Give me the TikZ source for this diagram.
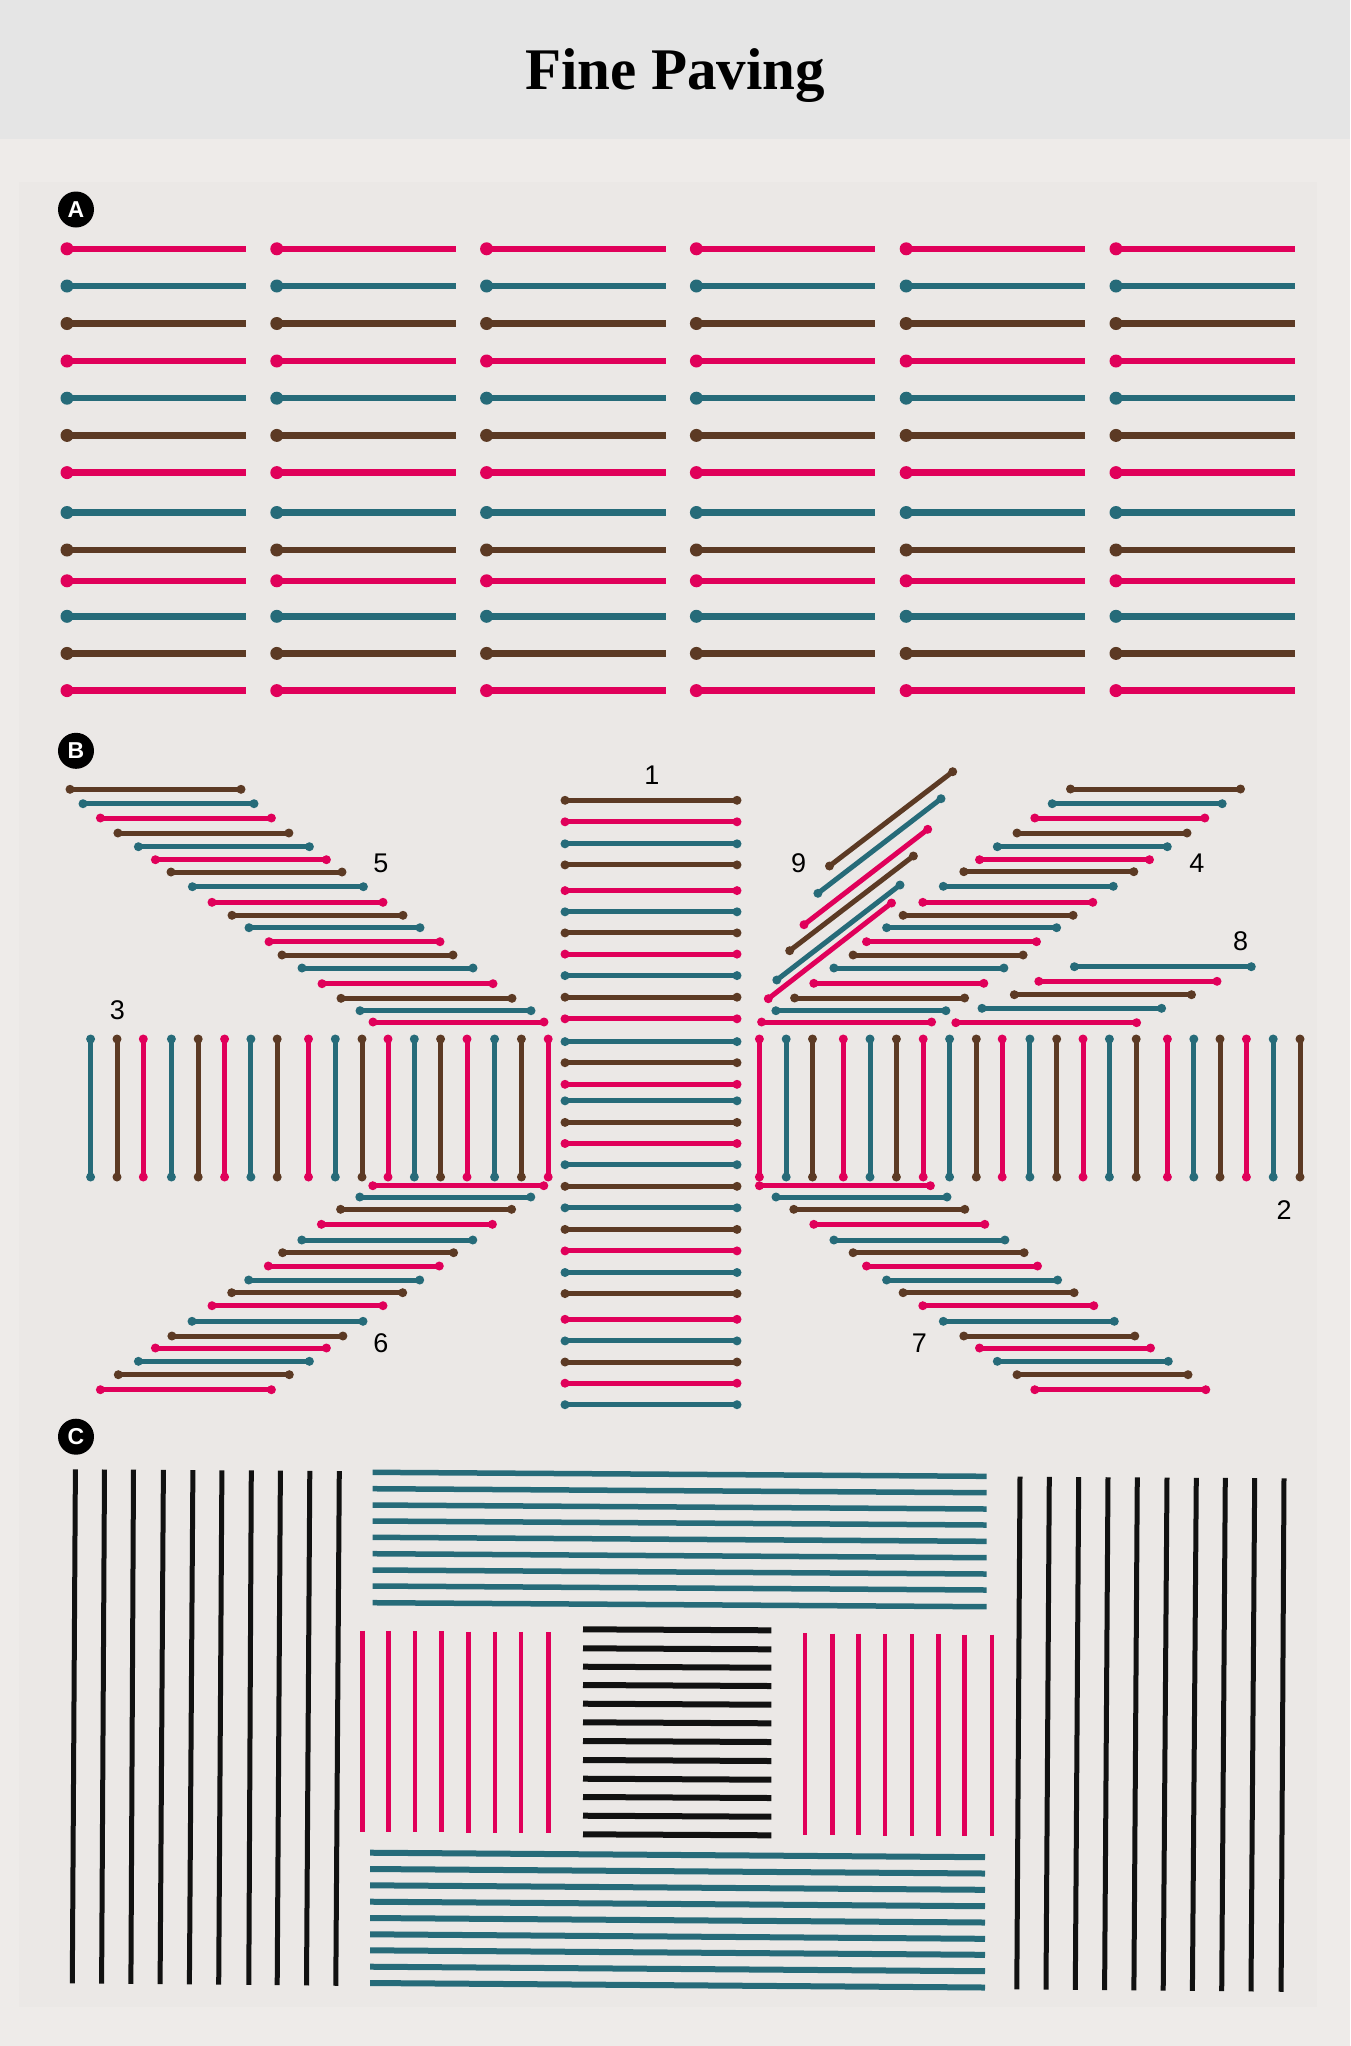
\documentclass[tikz,border=0pt]{standalone}
\usepackage{fontspec}
\setmainfont{Liberation Serif}
\newfontfamily\numfont{Liberation Sans}
\definecolor{pnk}{HTML}{E0005A}
\definecolor{tel}{HTML}{266B79}
\definecolor{brn}{HTML}{5C3A24}
\definecolor{ink}{HTML}{111111}
\definecolor{paper}{HTML}{EEEBE9}
\definecolor{panel}{HTML}{EBE8E6}
\definecolor{band}{HTML}{E5E5E5}

% stitch with a dot at both ends
\newcommand{\stitch}[5]{%
  \draw[#1, line width=5pt] (#2,#3) -- (#4,#5);
  \fill[#1] (#2,#3) circle[radius=4.5pt] (#4,#5) circle[radius=4.5pt];
}
% stitch of part A, dot on the left end only
\newcommand{\pin}[3]{%
  \draw[#1, line width=6.5pt] (#2,#3) -- ++(179,0);
  \fill[#1] (#2,#3) circle[radius=6.5pt];
}

\begin{document}
\begin{tikzpicture}[x=1pt, y=-1pt,
  numlabel/.style={font=\numfont\fontsize{27}{27}\selectfont, inner sep=0pt},
  seclabel/.style={circle, fill=black, text=white, minimum size=36pt, inner sep=0pt,
    font=\numfont\bfseries\fontsize{23}{23}\selectfont},
  bar/.style={line width=5pt}]
% page, title band and panel
\fill[paper] (0,0) rectangle (1350,2046);
\fill[band] (0,0) rectangle (1350,139);
\fill[panel] (19,182) rectangle (1317,2007);
\node[anchor=base, inner sep=0pt, font=\bfseries\fontsize{59}{59}\selectfont] (title) at (675,89) {Fine Paving};

% A
\node[seclabel] (secA) at (76,209.5) {A};
\foreach \c/\y in {pnk/248.8, tel/286.0, brn/323.5, pnk/361.0, tel/398.2, brn/435.4, pnk/472.6,
    tel/512.5, brn/550.0, pnk/580.8, tel/616.3, brn/653.4, pnk/690.6}
  \foreach \k in {0,...,5}
    \pin{\c}{67+209.8*\k}{\y};

% B
\node[seclabel] (secB) at (76,750.8) {B};
% 5
\foreach \c/\x/\y in {brn/70/789.3, tel/83/803.7, pnk/100.4/818, brn/117.9/833, tel/138.4/846.7,
    pnk/155.4/859.7, brn/171/872, tel/192.4/886.7, pnk/212/902.3, brn/232/915.3, tel/249/927.7,
    pnk/269/941.7, brn/282/955, tel/302/968, pnk/322/983.7, brn/341/998.3, tel/360/1010.7, pnk/373/1022}
  \stitch{\c}{\x}{\y}{\x+171}{\y};
% 4
\foreach \c/\x/\y in {brn/1070.5/789, tel/1052.2/803.7, pnk/1034.8/818, brn/1017/833, tel/997.3/846.7,
    pnk/979.5/859.7, brn/963.8/871.7, tel/943.3/886.3, pnk/922.8/902.3, brn/903.1/915.3, tel/886.6/927.7,
    pnk/866.5/941.7, brn/853.1/955, tel/833.9/968, pnk/813.8/983.3, brn/794.6/998, tel/775.9/1010.7, pnk/761.6/1022}
  \stitch{\c}{\x}{\y}{\x+170}{\y};
% 6
\foreach \c/\x/\y in {pnk/372.8/1185.7, tel/359.8/1197, brn/340.6/1209.3, pnk/321.4/1224.3, tel/301.8/1240,
    brn/282.6/1252.7, pnk/268.3/1266, tel/248.7/1280, brn/231.7/1292.7, pnk/212/1305.7, tel/192/1321.3,
    brn/171.9/1336, pnk/155.4/1348, tel/138.4/1361.3, brn/118.3/1374.7, pnk/100.4/1389.7}
  \stitch{\c}{\x}{\y}{\x+171}{\y};
% 7
\foreach \c/\x/\y in {pnk/759.4/1185.7, tel/776/1197, brn/793.8/1209.3, pnk/813.8/1224.3, tel/833.9/1240,
    brn/853.1/1252.7, pnk/866.5/1266, tel/886.6/1280, brn/903.1/1292.7, pnk/922.8/1305.7, tel/943.3/1321.3,
    brn/963.8/1336, pnk/979.5/1348, tel/997.3/1361.3, brn/1017/1374.7, pnk/1034.8/1389.7}
  \stitch{\c}{\x}{\y}{\x+171}{\y};
% 1
\foreach \c/\y in {brn/800.3, pnk/821.8, tel/843.8, brn/864.9, pnk/890.6, tel/911.8, brn/932.9, pnk/954.1,
    tel/975.6, brn/997.2, pnk/1018.8, tel/1041.6, brn/1062.7, pnk/1084.3, tel/1100.8, brn/1122.4, pnk/1143.5,
    tel/1164.7, brn/1186.3, tel/1207.8, brn/1229.4, pnk/1250.9, tel/1272.5, brn/1293.6, pnk/1319.3,
    tel/1340.9, brn/1362, pnk/1383.2, tel/1404.7}
  \stitch{\c}{565}{\y}{737}{\y};
% 3
\foreach \c/\x in {tel/90.6, brn/117, pnk/143.3, tel/171.4, brn/198.2, pnk/224.6, tel/250.9, brn/277.2,
    pnk/308.5, tel/335.3, brn/362, pnk/388, tel/414.3, brn/440.6, pnk/467, tel/494.6, brn/521.4, pnk/548.2}
  \stitch{\c}{\x}{1039}{\x}{1177};
% 2
\foreach \c/\x in {pnk/759.4, tel/786.2, brn/812.5, pnk/843.3, tel/870, brn/896.4, pnk/923.2, tel/949.6,
    brn/976.3, pnk/1002.2, tel/1029.9, brn/1056.7, pnk/1083, tel/1109.4, brn/1136.2, pnk/1167.4,
    tel/1193.8, brn/1220, pnk/1246.4, tel/1273.2, brn/1300}
  \stitch{\c}{\x}{1039}{\x}{1177};
% 9
\foreach \c/\xa/\ya/\xb/\yb in {brn/829.5/866/952.7/771.7, tel/817.9/893.3/941/798.7, pnk/804/924.7/927.7/829.3,
    brn/789.7/950.7/913.4/856, tel/776.8/980/900/885, pnk/768.3/998.7/891.5/903}
  \stitch{\c}{\xa}{\ya}{\xb}{\yb};
% 8
\foreach \c/\xa/\xb/\y in {tel/1074.4/1251.3/966.7, pnk/1038.8/1217/981.3, brn/1014.3/1191.5/994.7,
    tel/982/1161.6/1008.3, pnk/955.8/1136.6/1022.7}
  \stitch{\c}{\xa}{\y}{\xb}{\y};

\node[numlabel] (numone) at (651.8,775) {1};
\node[numlabel] (numtwo) at (1284,1210) {2};
\node[numlabel] (numthree) at (117.4,1010) {3};
\node[numlabel] (numfour) at (1196.9,863.3) {4};
\node[numlabel] (numfive) at (380.8,863.3) {5};
\node[numlabel] (numsix) at (380.8,1343.3) {6};
\node[numlabel] (numseven) at (919.3,1343.3) {7};
\node[numlabel] (numeight) at (1240.6,940.7) {8};
\node[numlabel] (numnine) at (798.7,863.3) {9};

% C
\node[seclabel] (secC) at (76,1436.7) {C};
\foreach \xa/\xb [count=\i from 0] in {75.4/72.3, 104.5/101.6, 133.5/130.9, 163.4/160.1, 192.9/189.4,
    221.9/218.7, 251.3/248.8, 280.4/277.2, 309.8/306.5, 339.3/335.8}
  \draw[ink, bar] (\xa,1469.3+0.19*\i) -- (\xb,1983.3+0.27*\i);
\foreach \xa/\xb [count=\i from 0] in {1020/1016.8, 1049.3/1046, 1078.7/1075.3, 1108/1104.6, 1137.3/1133.9,
    1167/1163.2, 1196.3/1192.4, 1225.3/1221.7, 1254.7/1251, 1284/1281.1}
  \draw[ink, bar] (\xa,1476.7+0.18*\i) -- (\xb,1989.3+0.27*\i);
\foreach \y in {1472.3, 1488.7, 1505, 1521, 1537.3, 1553.7, 1570, 1586, 1602.7}
  \draw[tel, line width=5.5pt] (372.7,\y) -- (986.6,\y+4);
\foreach \x [count=\i from 0] in {362.5, 388.3, 415, 441.7, 468.4, 495, 520.9, 548.4}
  \draw[pnk, line width=4.5pt] (\x,1630.7+0.2*\i) -- (\x,1831.7+0.2*\i);
\foreach \y in {1629.3, 1648.3, 1666.7, 1685, 1703.7, 1722.3, 1741, 1760, 1778.7, 1797, 1815.7, 1834.3}
  \draw[ink, line width=6pt] (583,\y) -- (771.4,\y+1);
\foreach \x [count=\i from 0] in {805, 832.6, 858.4, 885.1, 911.8, 938.4, 964.3, 991.8}
  \draw[pnk, line width=4.5pt] (\x,1633.3+0.2*\i) -- (\x,1835+0.2*\i);
\foreach \y in {1852.7, 1869, 1885.3, 1901.7, 1918, 1934.3, 1950.3, 1966.7, 1983}
  \draw[tel, line width=6pt] (370.2,\y) -- (985,\y+4.5);
\end{tikzpicture}
\end{document}
